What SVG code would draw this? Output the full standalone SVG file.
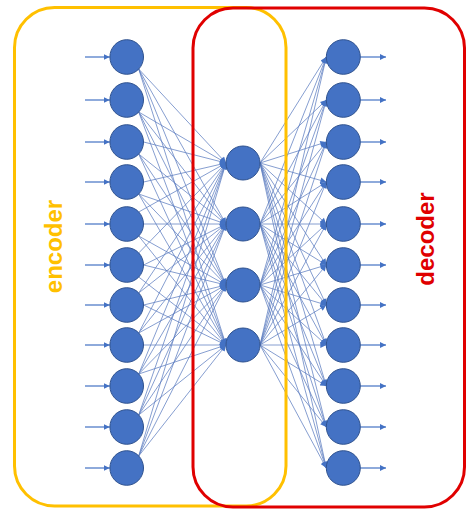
<svg xmlns="http://www.w3.org/2000/svg" width="474" height="513" viewBox="0 0 474 513">
<style>
.bg{fill:#ffffff}
.n{fill:#4472C4;stroke:#2F528F;stroke-width:1}
.c line{stroke:#5E7DC0;stroke-width:0.75;fill:none}
.io line{stroke:#4472C4;stroke-width:1.2;fill:none}
.c line{marker-end:url(#ah)}
.io line{marker-end:url(#ah2)}
.enc{fill:none;stroke:#FFC000;stroke-width:3}
.dec{fill:none;stroke:#E00000;stroke-width:3}
.lbl{font-family:"Liberation Sans",Arial,sans-serif;font-weight:bold;font-size:24px;text-anchor:middle}
</style>
<defs>
<marker id="ah" viewBox="0 0 10 10" refX="10" refY="5" markerWidth="7" markerHeight="6" markerUnits="userSpaceOnUse" orient="auto"><path d="M0,0L10,5L0,10z" fill="#4472C4"/></marker>
<marker id="ah2" viewBox="0 0 10 10" refX="10" refY="5" markerWidth="6" markerHeight="6" markerUnits="userSpaceOnUse" orient="auto"><path d="M0,0L10,5L0,10z" fill="#4472C4"/></marker>
</defs>
<rect class="bg" x="0" y="0" width="474" height="513"/>
<g id="connectors">
<g class="io">
<line x1="85" y1="57" x2="109.7" y2="57"/><line x1="85" y1="100" x2="109.7" y2="100"/><line x1="85" y1="142" x2="109.7" y2="142"/><line x1="85" y1="182" x2="109.7" y2="182"/><line x1="85" y1="224" x2="109.7" y2="224"/><line x1="85" y1="265" x2="109.7" y2="265"/><line x1="85" y1="305" x2="109.7" y2="305"/><line x1="85" y1="345" x2="109.7" y2="345"/><line x1="85" y1="386" x2="109.7" y2="386"/><line x1="85" y1="427" x2="109.7" y2="427"/><line x1="85" y1="468" x2="109.7" y2="468"/>
<line x1="360.3" y1="57" x2="386" y2="57"/><line x1="360.3" y1="100" x2="386" y2="100"/><line x1="360.3" y1="142" x2="386" y2="142"/><line x1="360.3" y1="182" x2="386" y2="182"/><line x1="360.3" y1="224" x2="386" y2="224"/><line x1="360.3" y1="265" x2="386" y2="265"/><line x1="360.3" y1="305" x2="386" y2="305"/><line x1="360.3" y1="345" x2="386" y2="345"/><line x1="360.3" y1="386" x2="386" y2="386"/><line x1="360.3" y1="427" x2="386" y2="427"/><line x1="360.3" y1="468" x2="386" y2="468"/>
</g>
<g class="c">
<line x1="138.7" y1="69" x2="226" y2="163"/><line x1="138.7" y1="69" x2="226" y2="224"/><line x1="138.7" y1="69" x2="226" y2="285"/><line x1="138.7" y1="69" x2="226" y2="345"/>
<line x1="138.7" y1="112" x2="226" y2="163"/><line x1="138.7" y1="112" x2="226" y2="224"/><line x1="138.7" y1="112" x2="226" y2="285"/><line x1="138.7" y1="112" x2="226" y2="345"/>
<line x1="143.7" y1="142" x2="226" y2="163"/><line x1="138.7" y1="154" x2="226" y2="224"/><line x1="138.7" y1="154" x2="226" y2="285"/><line x1="138.7" y1="154" x2="226" y2="345"/>
<line x1="143.7" y1="182" x2="226" y2="163"/><line x1="138.7" y1="194" x2="226" y2="224"/><line x1="138.7" y1="194" x2="226" y2="285"/><line x1="138.7" y1="194" x2="226" y2="345"/>
<line x1="138.7" y1="212" x2="226" y2="163"/><line x1="143.7" y1="224" x2="226" y2="224"/><line x1="138.7" y1="236" x2="226" y2="285"/><line x1="138.7" y1="236" x2="226" y2="345"/>
<line x1="138.7" y1="253" x2="226" y2="163"/><line x1="143.7" y1="265" x2="226" y2="224"/><line x1="143.7" y1="265" x2="226" y2="285"/><line x1="138.7" y1="277" x2="226" y2="345"/>
<line x1="138.7" y1="293" x2="226" y2="163"/><line x1="138.7" y1="293" x2="226" y2="224"/><line x1="143.7" y1="305" x2="226" y2="285"/><line x1="143.7" y1="305" x2="226" y2="345"/>
<line x1="138.7" y1="333" x2="226" y2="163"/><line x1="138.7" y1="333" x2="226" y2="224"/><line x1="138.7" y1="333" x2="226" y2="285"/><line x1="143.7" y1="345" x2="226" y2="345"/>
<line x1="138.7" y1="374" x2="226" y2="163"/><line x1="138.7" y1="374" x2="226" y2="224"/><line x1="138.7" y1="374" x2="226" y2="285"/><line x1="138.7" y1="374" x2="226" y2="345"/>
<line x1="138.7" y1="415" x2="226" y2="163"/><line x1="138.7" y1="415" x2="226" y2="224"/><line x1="138.7" y1="415" x2="226" y2="285"/><line x1="138.7" y1="415" x2="226" y2="345"/>
<line x1="138.7" y1="456" x2="226" y2="163"/><line x1="138.7" y1="456" x2="226" y2="224"/><line x1="138.7" y1="456" x2="226" y2="285"/><line x1="138.7" y1="456" x2="226" y2="345"/>
<line x1="260" y1="163" x2="326.3" y2="57"/><line x1="260" y1="163" x2="326.3" y2="100"/><line x1="260" y1="163" x2="326.3" y2="142"/><line x1="260" y1="163" x2="326.3" y2="182"/><line x1="260" y1="163" x2="326.3" y2="224"/><line x1="260" y1="163" x2="326.3" y2="265"/><line x1="260" y1="163" x2="326.3" y2="305"/><line x1="260" y1="163" x2="326.3" y2="345"/><line x1="260" y1="163" x2="326.3" y2="386"/><line x1="260" y1="163" x2="326.3" y2="427"/><line x1="260" y1="163" x2="326.3" y2="468"/>
<line x1="260" y1="224" x2="326.3" y2="57"/><line x1="260" y1="224" x2="326.3" y2="100"/><line x1="260" y1="224" x2="326.3" y2="142"/><line x1="260" y1="224" x2="326.3" y2="182"/><line x1="260" y1="224" x2="326.3" y2="224"/><line x1="260" y1="224" x2="326.3" y2="265"/><line x1="260" y1="224" x2="326.3" y2="305"/><line x1="260" y1="224" x2="326.3" y2="345"/><line x1="260" y1="224" x2="326.3" y2="386"/><line x1="260" y1="224" x2="326.3" y2="427"/><line x1="260" y1="224" x2="326.3" y2="468"/>
<line x1="260" y1="285" x2="326.3" y2="57"/><line x1="260" y1="285" x2="326.3" y2="100"/><line x1="260" y1="285" x2="326.3" y2="142"/><line x1="260" y1="285" x2="326.3" y2="182"/><line x1="260" y1="285" x2="326.3" y2="224"/><line x1="260" y1="285" x2="326.3" y2="265"/><line x1="260" y1="285" x2="326.3" y2="305"/><line x1="260" y1="285" x2="326.3" y2="345"/><line x1="260" y1="285" x2="326.3" y2="386"/><line x1="260" y1="285" x2="326.3" y2="427"/><line x1="260" y1="285" x2="326.3" y2="468"/>
<line x1="260" y1="345" x2="326.3" y2="57"/><line x1="260" y1="345" x2="326.3" y2="100"/><line x1="260" y1="345" x2="326.3" y2="142"/><line x1="260" y1="345" x2="326.3" y2="182"/><line x1="260" y1="345" x2="326.3" y2="224"/><line x1="260" y1="345" x2="326.3" y2="265"/><line x1="260" y1="345" x2="326.3" y2="305"/><line x1="260" y1="345" x2="326.3" y2="345"/><line x1="260" y1="345" x2="326.3" y2="386"/><line x1="260" y1="345" x2="326.3" y2="427"/><line x1="260" y1="345" x2="326.3" y2="468"/>
</g>
</g>
<g id="input-layer">
<g id="in1"><ellipse class="n" cx="126.7" cy="57" rx="16.8" ry="17.3"/></g>
<g id="in2"><ellipse class="n" cx="126.7" cy="100" rx="16.8" ry="17.3"/></g>
<g id="in3"><ellipse class="n" cx="126.7" cy="142" rx="16.8" ry="17.3"/></g>
<g id="in4"><ellipse class="n" cx="126.7" cy="182" rx="16.8" ry="17.3"/></g>
<g id="in5"><ellipse class="n" cx="126.7" cy="224" rx="16.8" ry="17.3"/></g>
<g id="in6"><ellipse class="n" cx="126.7" cy="265" rx="16.8" ry="17.3"/></g>
<g id="in7"><ellipse class="n" cx="126.7" cy="305" rx="16.8" ry="17.3"/></g>
<g id="in8"><ellipse class="n" cx="126.7" cy="345" rx="16.8" ry="17.3"/></g>
<g id="in9"><ellipse class="n" cx="126.7" cy="386" rx="16.8" ry="17.3"/></g>
<g id="in10"><ellipse class="n" cx="126.7" cy="427" rx="16.8" ry="17.3"/></g>
<g id="in11"><ellipse class="n" cx="126.7" cy="468" rx="16.8" ry="17.3"/></g>
</g>
<g id="code-layer">
<g id="mid1"><ellipse class="n" cx="243" cy="163" rx="17" ry="17"/></g>
<g id="mid2"><ellipse class="n" cx="243" cy="224" rx="17" ry="17"/></g>
<g id="mid3"><ellipse class="n" cx="243" cy="285" rx="17" ry="17"/></g>
<g id="mid4"><ellipse class="n" cx="243" cy="345" rx="17" ry="17"/></g>
</g>
<g id="output-layer">
<g id="out1"><ellipse class="n" cx="343.3" cy="57" rx="17" ry="17.3"/></g>
<g id="out2"><ellipse class="n" cx="343.3" cy="100" rx="17" ry="17.3"/></g>
<g id="out3"><ellipse class="n" cx="343.3" cy="142" rx="17" ry="17.3"/></g>
<g id="out4"><ellipse class="n" cx="343.3" cy="182" rx="17" ry="17.3"/></g>
<g id="out5"><ellipse class="n" cx="343.3" cy="224" rx="17" ry="17.3"/></g>
<g id="out6"><ellipse class="n" cx="343.3" cy="265" rx="17" ry="17.3"/></g>
<g id="out7"><ellipse class="n" cx="343.3" cy="305" rx="17" ry="17.3"/></g>
<g id="out8"><ellipse class="n" cx="343.3" cy="345" rx="17" ry="17.3"/></g>
<g id="out9"><ellipse class="n" cx="343.3" cy="386" rx="17" ry="17.3"/></g>
<g id="out10"><ellipse class="n" cx="343.3" cy="427" rx="17" ry="17.3"/></g>
<g id="out11"><ellipse class="n" cx="343.3" cy="468" rx="17" ry="17.3"/></g>
</g>
<g id="encoder">
<rect class="enc" x="14.5" y="7.5" width="271.5" height="498.5" rx="40" ry="40"/>
<text class="lbl" fill="#FFC000" transform="translate(62,246.5) rotate(-90)">encoder</text>
</g>
<g id="decoder">
<rect class="dec" x="193" y="8" width="271.5" height="499" rx="40" ry="40"/>
<text class="lbl" fill="#E00000" transform="translate(434,239) rotate(-90)">decoder</text>
</g>
</svg>
